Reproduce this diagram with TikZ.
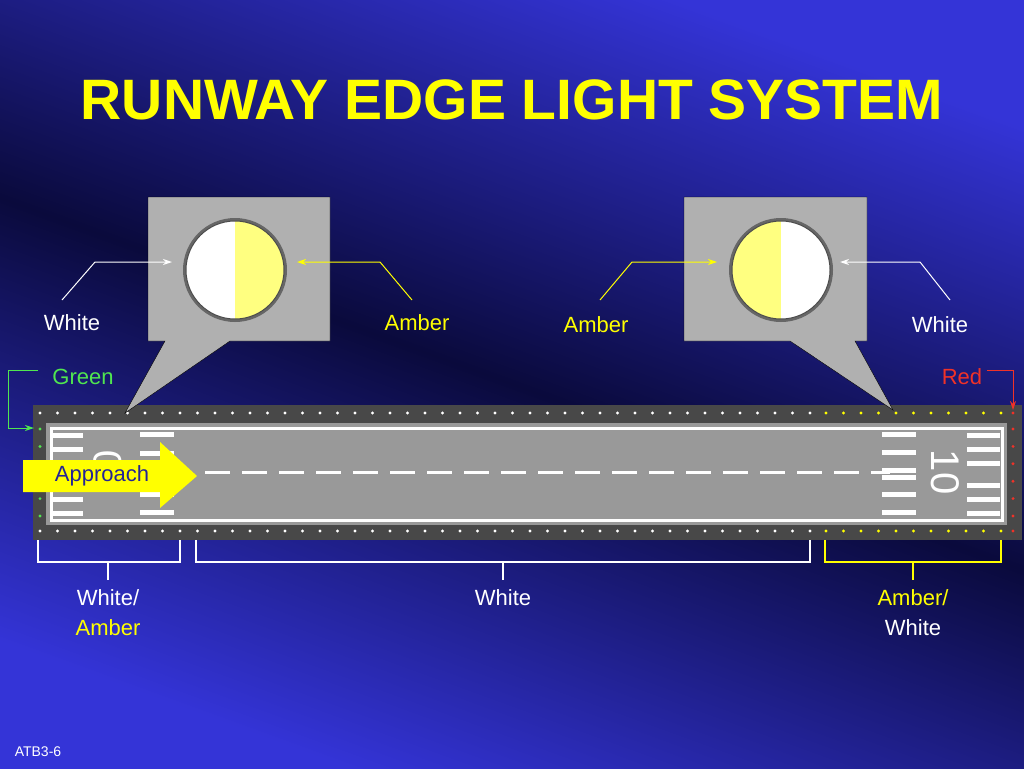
\documentclass[tikz,border=0pt]{standalone}
\usepackage{fontspec}
\setmainfont{Liberation Sans}
\usetikzlibrary{arrows.meta}
\definecolor{bgA}{RGB}{52,52,215}
\definecolor{bgD}{RGB}{10,10,60}
\definecolor{rwD}{RGB}{72,72,72}
\definecolor{rwL}{RGB}{153,153,153}
\definecolor{boxG}{RGB}{176,176,176}
\definecolor{amb}{RGB}{255,255,128}
\definecolor{yel}{RGB}{255,255,0}
\definecolor{grn}{RGB}{80,230,80}
\definecolor{redl}{RGB}{240,50,40}
\tikzset{
  lbl/.style={font=\fontsize{22}{24}\selectfont,inner sep=0pt},
  lead/.style={line width=1pt,-{Stealth[length=9pt,width=6pt]}},
  brk/.style={line width=2.5pt},
}
\begin{document}
\begin{tikzpicture}[x=1pt,y=-1pt]
\useasboundingbox (0,0) rectangle (1024,768);
\shade[top color=bgA, bottom color=bgA, middle color=bgD, shading angle=-20] (0,0) rectangle (1024,768);
\node[font=\bfseries\fontsize{57}{60}\selectfont, text=yel] (title) at (512,100) {RUNWAY EDGE LIGHT SYSTEM};
% runway
\fill[rwD] (33,405) rectangle (1022,540);
\fill[rwL] (46,423) rectangle (1007,525);
\draw[white,line width=3pt] (51,428) rectangle (1002,520);
\foreach \x in {40,57.5,...,811} {\fill[white] (\x,413) circle (1.6); \fill[white] (\x,531) circle (1.6);}
\foreach \x in {826,843.5,...,1002} {\fill[yel] (\x,413) circle (1.6); \fill[yel] (\x,531) circle (1.6);}
\foreach \y in {429,446.4,...,516} {\fill[grn] (40,\y) circle (1.6); \fill[redl] (1013,\y) circle (1.6);}
\fill[redl] (1013,413) circle (1.6); \fill[redl] (1013,531) circle (1.6);
\foreach \y in {433,447,461,483,497,511} \fill[white] (53,\y) rectangle (83,\y+5);
\foreach \y in {432,451,492,510} \fill[white] (140,\y) rectangle (174,\y+5);
\foreach \y in {432,450,468,475,492,510} \fill[white] (882,\y) rectangle (916,\y+5);
\foreach \y in {433,447,461,483,497,511} \fill[white] (967,\y) rectangle (1000,\y+5);
\draw[white,line width=3pt,dash pattern=on 25pt off 12pt] (205,472) -- (890,472);
\node[rotate=-90,white,font=\fontsize{40}{40}\selectfont] (n10) at (945,472) {10};
\node[rotate=90,white,font=\fontsize{40}{40}\selectfont] (n01) at (108,472) {10};
\fill[yel] (23,460) -- (160,460) -- (160,442) -- (197,476) -- (160,508) -- (160,492) -- (23,492) -- cycle;
\node[lbl,text=bgA!70!black] (appr) at (102,476) {Approach};
% callouts
\draw[black,fill=boxG] (148,197) -- (330,197) -- (330,341) -- (230,341) -- (125,413) -- (165,341) -- (148,341) -- cycle;
\fill[black!60] (235,270) circle (52);
\fill[white] (235,319) arc (90:270:49) -- cycle;
\fill[amb] (235,319) arc (90:-90:49) -- cycle;
\draw[black!70,line width=1pt] (235,270) circle (49);
\draw[black,fill=boxG] (684,197) -- (867,197) -- (867,341) -- (855,341) -- (893,410) -- (790,341) -- (684,341) -- cycle;
\fill[black!60] (781,270) circle (52);
\fill[amb] (781,319) arc (90:270:49) -- cycle;
\fill[white] (781,319) arc (90:-90:49) -- cycle;
\draw[black!70,line width=1pt] (781,270) circle (49);
\coordinate (c1) at (172,262); \coordinate (c2) at (297,262);
\coordinate (c3) at (717,262); \coordinate (c4) at (840,262);
\node[lbl,white] (w1) at (72,323) {White};
\node[lbl,yel] (a1) at (417,323) {Amber};
\node[lbl,yel] (a2) at (596,325) {Amber};
\node[lbl,white] (w2) at (940,325) {White};
\draw[lead,white] (62,300) -- (95,262) -- (c1);
\draw[lead,yel] (412,300) -- (380,262) -- (c2);
\draw[lead,yel] (600,300) -- (632,262) -- (c3);
\draw[lead,white] (950,300) -- (920,262) -- (c4);
\node[lbl,grn] (gr) at (83,377) {Green};
\node[lbl,redl] (rd) at (962,377) {Red};
\draw[lead,grn] (38,370) -- (8,370) -- (8,428) -- (34,428);
\draw[lead,redl] (987,370) -- (1013,370) -- (1013,410);
\draw[brk,white] (38,540) -- (38,562) -- (180,562) -- (180,540) (108,562) -- (108,580);
\draw[brk,white] (196,540) -- (196,562) -- (810,562) -- (810,540) (503,562) -- (503,580);
\draw[brk,yel] (825,540) -- (825,562) -- (1001,562) -- (1001,540) (913,562) -- (913,580);
\node[lbl,white] (b1) at (108,598) {White/};
\node[lbl,yel] (b2) at (108,628) {Amber};
\node[lbl,white] (b3) at (503,598) {White};
\node[lbl,yel] (b4) at (913,598) {Amber/};
\node[lbl,white] (b5) at (913,628) {White};
\node[font=\fontsize{14}{16}\selectfont,white] (atb) at (38,752) {ATB3-6};
\end{tikzpicture}
\end{document}
